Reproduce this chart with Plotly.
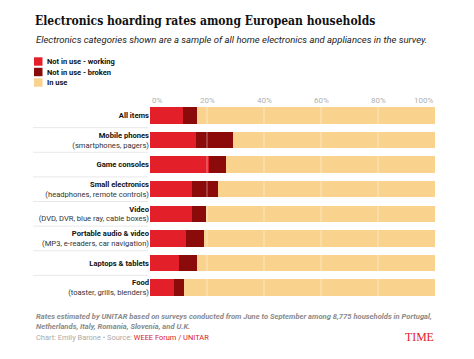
import plotly.graph_objects as go

# ---- data ----
categories = ["All items", "Mobile phones", "Game consoles", "Small electronics",
              "Video", "Portable audio & video", "Laptops & tablets", "Food"]
subtitles = ["", "(smartphones, pagers)", "", "(headphones, remote controls)",
             "(DVD, DVR, blue ray, cable boxes)", "(MP3, e-readers, car navigation)",
             "", "(toaster, grills, blenders)"]
not_in_use_working = [11.5, 16.1, 20.7, 14.6, 14.7, 12.6, 10.2, 8.4]
not_in_use_broken = [5.1, 13.1, 5.8, 9.4, 4.9, 6.5, 6.4, 3.6]
in_use = [round(100 - a - b, 1) for a, b in zip(not_in_use_working, not_in_use_broken)]
series_names = ["Not in use - working", "Not in use - broken", "In use"]
series_colors = ["#e3202a", "#8b0a0a", "#f9d28e"]
tick_vals = [0, 20, 40, 60, 80, 100]
tick_labels = ["0%", "20%", "40%", "60%", "80%", "100%"]

# ---- layout geometry (pixels) ----
W, H = 474, 359
L, R, T, B = 150, 39, 103, 59
PW, PH = W - L - R, H - T - B


def px(x):
    return (x - L) / PW


def py(y):
    return (H - B - y) / PH


FONT = "Roboto"

ticktext = []
for c, s in zip(categories, subtitles):
    t = f"<b>{c}</b>"
    if s:
        t += f"<br><span style='color:#333'>{s}</span>"
    ticktext.append(t)

fig = go.Figure()
for name, vals, col in zip(series_names, [not_in_use_working, not_in_use_broken, in_use], series_colors):
    fig.add_trace(go.Bar(
        y=categories, x=vals, name=name, orientation="h",
        marker=dict(color=col, line=dict(width=0)),
        showlegend=False,
    ))

shapes = []
# white gridlines over bars
for v in tick_vals[1:-1]:
    shapes.append(dict(type="line", xref="x", yref="paper", x0=v, x1=v, y0=0, y1=1,
                       line=dict(color="rgba(255,255,255,0.45)", width=1), layer="above"))
# separators between category labels
for i in range(len(categories) - 1):
    shapes.append(dict(type="line", xref="paper", yref="y", x0=px(33), x1=px(148),
                       y0=i + 0.5, y1=i + 0.5, line=dict(color="#e8e8e8", width=1)))
# legend swatches
leg_y = [61.5, 72, 82.5]
for yy, col in zip(leg_y, series_colors):
    shapes.append(dict(type="rect", xref="paper", yref="paper",
                       x0=px(34), x1=px(42.5), y0=py(yy - 4.2), y1=py(yy + 4.2),
                       fillcolor=col, line=dict(width=0)))

annotations = [
    dict(text="<b>Electronics hoarding rates among European households</b>",
         x=px(33), y=py(21), xanchor="left", yanchor="middle",
         font=dict(family="DejaVu Serif Condensed, DejaVu Serif", size=12, color="#111")),
    dict(text="<i>Electronics categories shown are a sample of all home electronics and appliances in the survey.</i>",
         x=px(33.5), y=py(39.5), xanchor="left", yanchor="middle",
         font=dict(family=FONT, size=9.5, color="#222")),
    dict(text="<b><i>Rates estimated by UNITAR based on surveys conducted from June to September among 8,775 households in Portugal,<br>Netherlands, Italy, Romania, Slovenia, and U.K.</i></b>",
         x=px(33.5), y=py(309.5), xanchor="left", yanchor="top", align="left",
         font=dict(family=FONT, size=7.6, color="#8a8a8a")),
    dict(text="Chart: Emily Barone \u2022 Source: <span style='color:#d6202a'>WEEE Forum / UNITAR</span>",
         x=px(33.5), y=py(337), xanchor="left", yanchor="middle",
         font=dict(family=FONT, size=7.45, color="#aaaaaa")),
    dict(text="TIME", x=px(435.5), y=py(336.5), xanchor="right", yanchor="middle",
         font=dict(family="Liberation Serif", size=11.8, color="#e3202a")),
]
for yy, name in zip(leg_y, series_names):
    annotations.append(dict(text=f"<b>{name}</b>", x=px(44.5), y=py(yy), xanchor="left",
                            yanchor="middle", font=dict(family=FONT, size=7.5, color="#111")))
for a in annotations:
    a.update(xref="paper", yref="paper", showarrow=False)

# x axis labels on top: end labels aligned inward
for i, (v, lab) in enumerate(zip(tick_vals, tick_labels)):
    anchor = "left" if i == 0 else ("right" if i == len(tick_vals) - 1 else "center")
    annotations.append(dict(text=lab, x=v, xref="x", y=py(100), yref="paper",
                            xanchor=anchor, yanchor="middle", showarrow=False,
                            font=dict(family=FONT, size=8, color="#b0b0b0")))

fig.update_layout(
    width=W, height=H,
    margin=dict(l=L, r=R, t=T, b=B, pad=0),
    barmode="stack", bargap=0.33,
    plot_bgcolor="white", paper_bgcolor="white",
    font=dict(family=FONT, size=8, color="#111"),
    shapes=shapes, annotations=annotations,
    xaxis=dict(range=[0, 100], side="top", tickvals=tick_vals, showticklabels=False,
               showgrid=False, zeroline=False, showline=False, ticks="",
               fixedrange=True),
    yaxis=dict(categoryorder="array", categoryarray=categories, autorange="reversed",
               tickvals=categories, ticktext=ticktext, ticks="", showgrid=False,
               showline=False, zeroline=False,
               tickfont=dict(family=FONT, size=7.6, color="#111"), fixedrange=True),
)

fig.write_html("out.html", config={"displayModeBar": False},
               post_script="document.body.style.margin='0';document.body.style.overflow='hidden';")
